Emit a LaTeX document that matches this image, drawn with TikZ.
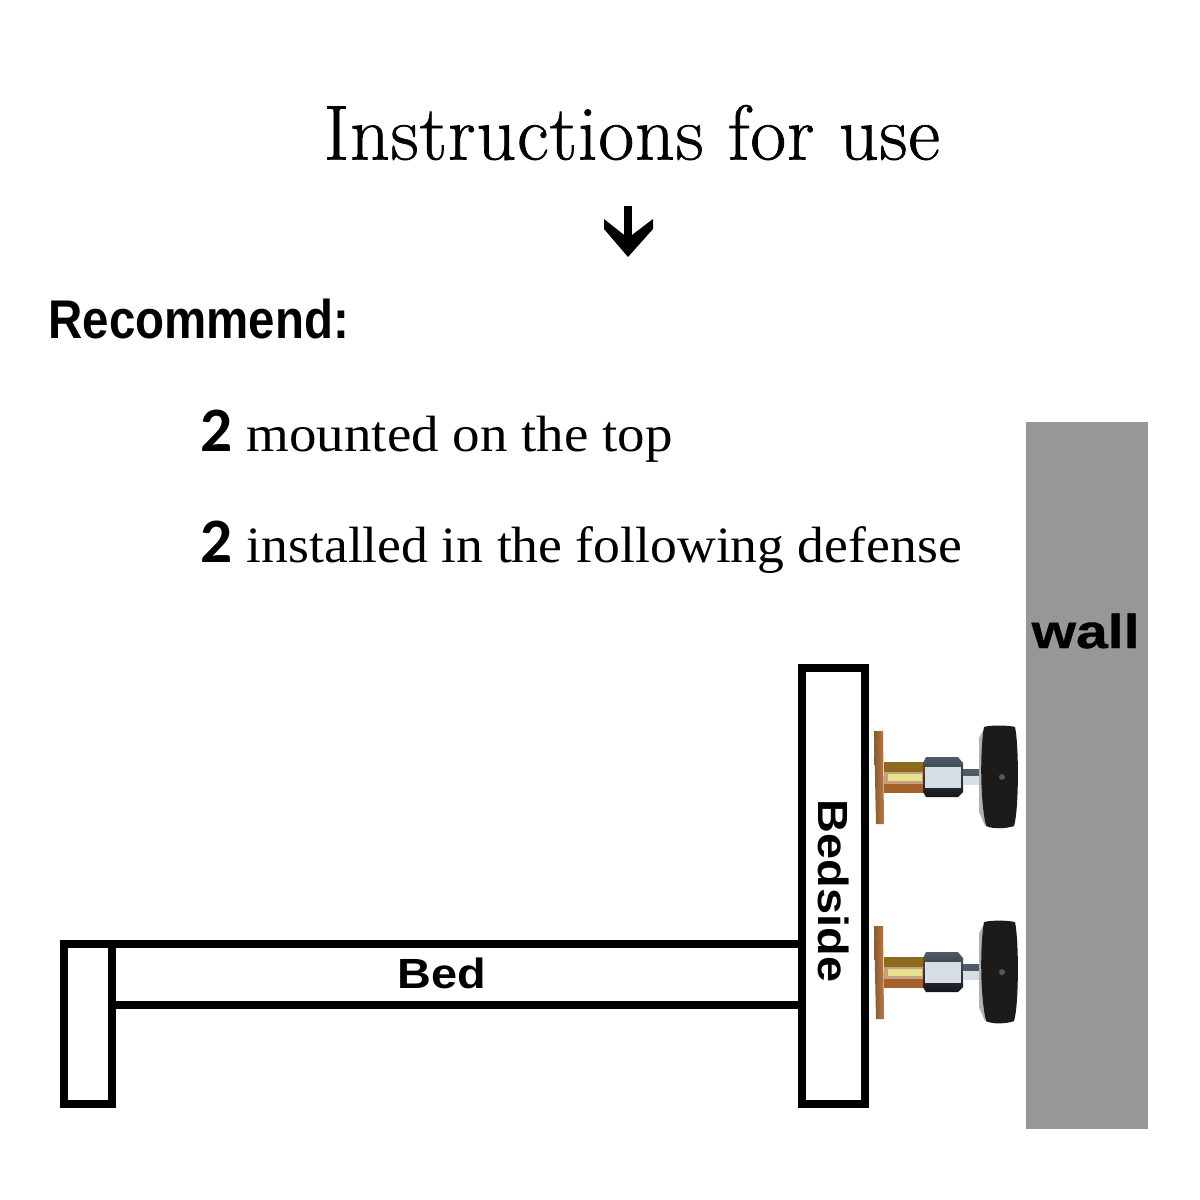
\documentclass[tikz,border=0pt]{standalone}
\usepackage{fontspec}
\setmainfont{Latin Modern Roman}
\newfontfamily\titlef[FakeBold=0.9,LetterSpace=1.2]{Latin Modern Roman}
\newfontfamily\recf[FakeStretch=0.87]{Liberation Sans}
\newfontfamily\wallf[FakeStretch=1.2,FakeBold=0.8]{Liberation Sans}
\newfontfamily\bedf[FakeStretch=1.11]{Liberation Sans}
\newfontfamily\bodyf[FakeStretch=1.052]{Liberation Serif}
\newfontfamily\bodyg[FakeStretch=1.078]{Liberation Serif}
\newfontfamily\numf{Carlito}
\definecolor{wallgrey}{HTML}{979797}
\definecolor{plateA}{HTML}{8A5A2B}
\definecolor{plateB}{HTML}{B9794A}
\definecolor{shaftA}{HTML}{8C6A1E}
\definecolor{shaftB}{HTML}{E4E28E}
\definecolor{shaftC}{HTML}{A3622B}
\definecolor{nutdark}{HTML}{4F5B66}
\definecolor{nutlight}{HTML}{D5DEE4}
\definecolor{puck}{HTML}{1D1A1A}
\begin{document}
\begin{tikzpicture}[x=0.01cm,y=-0.01cm,line join=miter,
 lbl/.style={inner sep=0pt,anchor=base west,text=black},
 frameb/.style={draw=black,line width=2.4pt,fill=white},
 bolt/.pic={
  \shade[left color=plateA,right color=plateB] (874,731) -- (883,731) -- (884,824) -- (876,824) -- cycle;
  \fill[shaftA] (884,762) rectangle (924,772);
  \fill[shaftC!60!white] (884,772) rectangle (924,784);
  \fill[shaftB] (888,774) rectangle (922,781);
  \fill[shaftC] (884,784) rectangle (924,793);
  \shade[top color=nutdark,bottom color=black!75!nutdark] (926,757) -- (958,757) -- (963,763) -- (963,792) -- (958,797) -- (926,797) -- (923,792) -- (923,763) -- cycle;
  \fill[nutlight] (925,767) rectangle (961,788);
  \fill[nutdark] (963,769) rectangle (982,776);
  \fill[nutlight] (963,776) rectangle (982,785);
  \fill[gray!60] (979,738) -- (985,727) -- (985,826) -- (979,812) -- cycle;
  \fill[puck] (984,727) .. controls (990,725) and (1008,725) .. (1015,727) .. controls (1019,745) and (1019,810) .. (1014,826) .. controls (1005,829) and (992,829) .. (986,826) .. controls (980,800) and (980,750) .. (984,727) -- cycle;
  \fill[gray!60!puck] (1002,777) circle (3);
 }]
\useasboundingbox (0,0) rectangle (1200,1200);
\fill[white] (0,0) rectangle (1200,1200);
\node[lbl] (title) at (323,159.5) {\titlef\fontsize{22.1pt}{24pt}\selectfont Instructions for use};
\coordinate (arrowtop) at (628,206);
\coordinate (arrowend) at (628,257);
\draw[line width=2.5pt,black] (arrowtop) -- (628,245);
\fill[black] (arrowend) -- (604,229) -- (604,219) -- (628,238) -- (653,219) -- (653,229) -- cycle;
\node[lbl] (rec) at (48,338) {\recf\bfseries\fontsize{15.5pt}{18pt}\selectfont Recommend:};
\node[lbl] (n1) at (200,451) {\numf\bfseries\fontsize{18pt}{20pt}\selectfont 2};
\node[lbl] (t1) at (246,451) {\bodyg\fontsize{14.5pt}{18pt}\selectfont mounted on the top};
\node[lbl] (n2) at (200,562) {\numf\bfseries\fontsize{18pt}{20pt}\selectfont 2};
\node[lbl] (t2) at (246,562) {\bodyf\fontsize{14.5pt}{18pt}\selectfont installed in the following defense};
\fill[wallgrey] (1026,422) rectangle (1148,1129);
\node[lbl] (wall) at (1031,648) {\wallf\bfseries\fontsize{13.5pt}{16pt}\selectfont wall};
\draw[frameb] (64,944) rectangle (112,1104);
\draw[frameb] (112,944) rectangle (802,1005);
\draw[frameb] (802,668) rectangle (865,1104);
\node[inner sep=0pt] (bed) at (442,973) {\bedf\fontsize{12pt}{14pt}\selectfont\bfseries Bed};
\node[inner sep=0pt,rotate=-90] (side) at (834,891) {\bedf\fontsize{12pt}{14pt}\selectfont\bfseries Bedside};
\pic {bolt};
\pic[yshift=-1.95cm] {bolt};
\end{tikzpicture}
\end{document}
